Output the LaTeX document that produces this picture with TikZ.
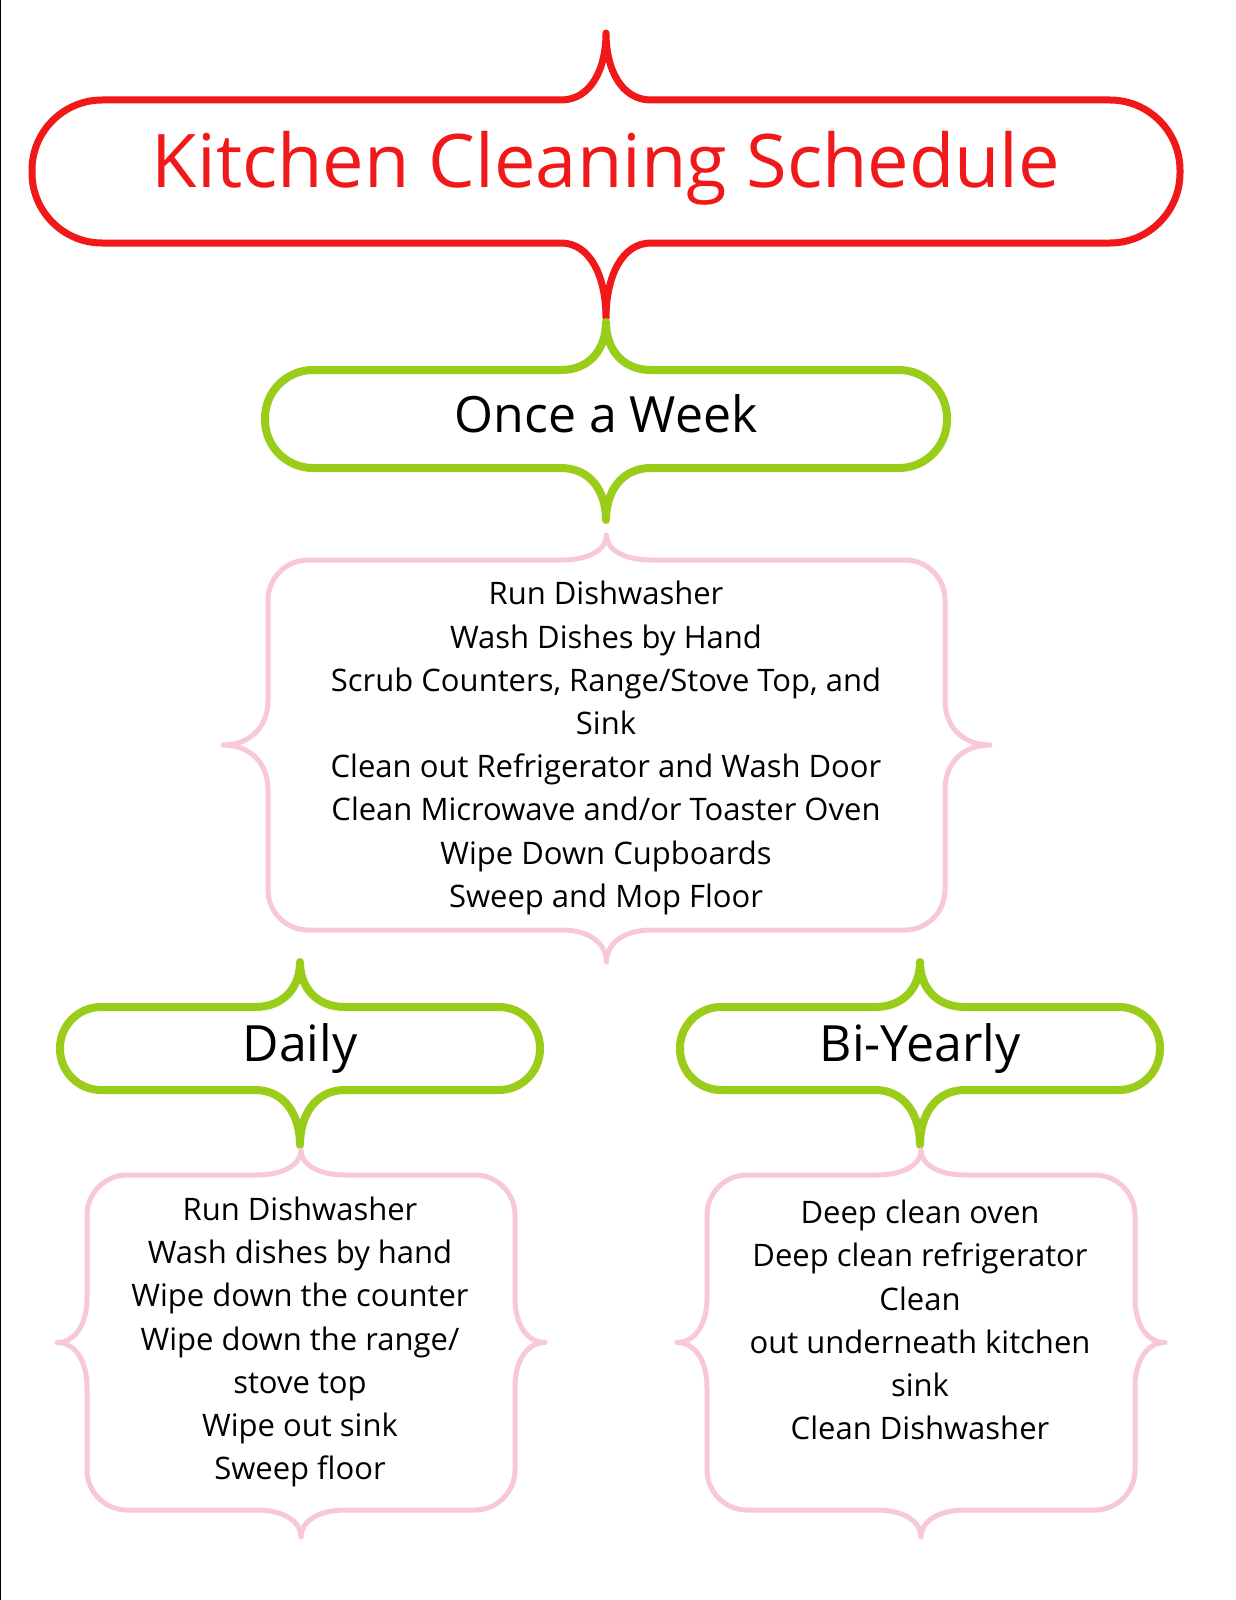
\documentclass[tikz,border=0pt]{standalone}
\usepackage{fontspec}
\setmainfont{Open Sans}
\definecolor{tred}{HTML}{F01818}
\definecolor{tgreen}{HTML}{9ACD1A}
\definecolor{tpink}{HTML}{F8C8D8}
% #1 L #2 R #3 T #4 B #5 top tip y #6 bottom tip y #7 side tip depth #8 style #9 radius
\newcommand\fancybox[9]{%
\pgfmathsetmacro\cx{(#1+#2)/2}\pgfmathsetmacro\my{(#3+#4)/2}%
\pgfmathsetmacro\ct{#3-0.45*(#3-#5)}\pgfmathsetmacro\cb{#4+0.45*(#6-#4)}%
\pgfmathsetmacro\rr{#9}\pgfmathsetmacro\rk{0.45*#9}%
\draw[line cap=round,line join=round,#8]
 (\cx,#5) .. controls (\cx,\ct) and (\cx+0.35*\hh,#3) .. (\cx+\hh,#3)
 -- (#2-\rr,#3) .. controls (#2-\rk,#3) and (#2,#3+\rk) .. (#2,#3+\rr)
 -- (#2,\my-\sh)
 .. controls (#2,\my-0.35*\sh) and (#2+0.45*#7,\my) .. (#2+#7,\my)
 .. controls (#2+0.45*#7,\my) and (#2,\my+0.35*\sh) .. (#2,\my+\sh)
 -- (#2,#4-\rr) .. controls (#2,#4-\rk) and (#2-\rk,#4) .. (#2-\rr,#4)
 -- (\cx+\hh,#4)
 .. controls (\cx+0.35*\hh,#4) and (\cx,\cb) .. (\cx,#6)
 .. controls (\cx,\cb) and (\cx-0.35*\hh,#4) .. (\cx-\hh,#4)
 -- (#1+\rr,#4) .. controls (#1+\rk,#4) and (#1,#4-\rk) .. (#1,#4-\rr)
 -- (#1,\my+\sh)
 .. controls (#1,\my+0.35*\sh) and (#1-0.45*#7,\my) .. (#1-#7,\my)
 .. controls (#1-0.45*#7,\my) and (#1,\my-0.35*\sh) .. (#1,\my-\sh)
 -- (#1,#3+\rr) .. controls (#1,#3+\rk) and (#1+\rk,#3) .. (#1+\rr,#3)
 -- (\cx-\hh,#3)
 .. controls (\cx-0.35*\hh,#3) and (\cx,\ct) .. (\cx,#5);}
\tikzset{
 redline/.style={draw=tred,line width=7pt},
 greenline/.style={draw=tgreen,line width=8pt},
 pinkline/.style={draw=tpink,line width=5pt},
 title/.style={text=tred,font=\fontsize{74}{80}\selectfont},
 head/.style={font=\fontsize{50}{56}\selectfont},
 items/.style={align=center,font=\fontsize{31}{43.2}\selectfont},
}
\begin{document}
\begin{tikzpicture}[x=1pt,y=-1pt]
\fill[white] (0,0) rectangle (1236,1600);
\draw[black,line width=1pt] (0.5,0) -- (0.5,1600);
\def\hh{45}\def\sh{0}
\fancybox{32}{1180}{100}{243}{33}{318}{0}{redline}{70}
\fancybox{265}{947}{370}{468}{322}{520}{0}{greenline}{48}
\fancybox{60}{540}{1007}{1090}{962}{1145}{0}{greenline}{41}
\fancybox{680}{1160}{1007}{1090}{962}{1145}{0}{greenline}{41}
\def\sh{45}
\fancybox{268}{945}{560}{930}{535}{962}{45}{pinkline}{40}
\fancybox{87}{515}{1175}{1510}{1150}{1537}{30}{pinkline}{40}
\fancybox{707}{1135}{1175}{1510}{1150}{1537}{30}{pinkline}{40}
\node[title] (t) at (606,168) {Kitchen Cleaning Schedule};
\node[head] (w) at (606,414) {Once a Week};
\node[head] (d) at (300,1048) {Daily};
\node[head] (b) at (920,1048) {Bi-Yearly};
\node[items] (wi) at (606,748) {Run Dishwasher\\Wash Dishes by Hand\\Scrub Counters, Range/Stove Top, and\\Sink\\Clean out Refrigerator and Wash Door\\Clean Microwave and/or Toaster Oven\\Wipe Down Cupboards\\Sweep and Mop Floor};
\node[items] (di) at (300,1342) {Run Dishwasher\\Wash dishes by hand\\Wipe down the counter\\Wipe down the range/\\stove top\\Wipe out sink\\Sweep floor};
\node[items] (bi) at (920,1320) {Deep clean oven\\Deep clean refrigerator\\Clean\\out underneath kitchen\\sink\\Clean Dishwasher};
\pgfresetboundingbox
\useasboundingbox (0,0) rectangle (1236,1600);
\end{tikzpicture}
\end{document}
